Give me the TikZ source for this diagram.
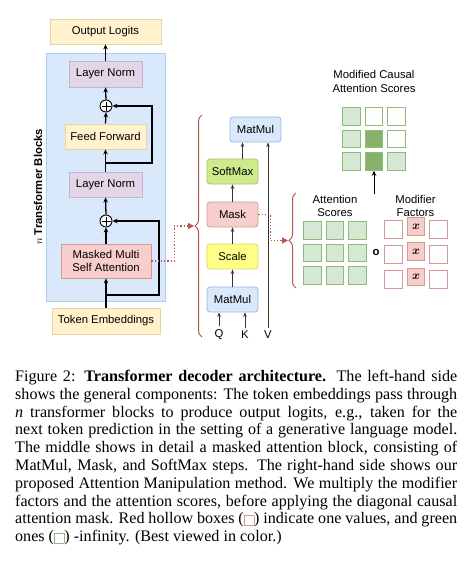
\documentclass[tikz,border=0pt]{standalone}
\usepackage{amsmath}
\usepackage{amssymb}
\usepackage{fontspec}
\setmainfont{Liberation Serif}
\setsansfont{Liberation Sans}
\usepackage{tikz}
\usetikzlibrary{arrows.meta,decorations.pathreplacing,matrix}

\definecolor{ylwfill}{HTML}{FFF2CC}
\definecolor{ylwdraw}{HTML}{E6D5A0}
\definecolor{bluefill}{HTML}{DAE8FC}
\definecolor{bluedraw}{HTML}{9DB6E0}
\definecolor{bgdraw}{HTML}{B4CBEF}
\definecolor{purpfill}{HTML}{E1D5E7}
\definecolor{purpdraw}{HTML}{C4B3D3}
\definecolor{redfill}{HTML}{F8CECC}
\definecolor{reddraw}{HTML}{D29A97}
\definecolor{greenfill}{HTML}{D5E8D4}
\definecolor{greendraw}{HTML}{8FBA78}
\definecolor{darkgreen}{HTML}{86B16B}
\definecolor{limefill}{HTML}{CDEB8B}
\definecolor{limedraw}{HTML}{A6C46A}
\definecolor{scalefill}{HTML}{FFFF88}
\definecolor{scaledraw}{HTML}{D9D36A}
\definecolor{bracered}{HTML}{B85450}

\newcommand{\capsquare}[1]{{\setlength{\fboxsep}{0pt}\setlength{\fboxrule}{0.7pt}%
	\raisebox{-1pt}{\fcolorbox{#1}{white}{\rule{0pt}{9pt}\hspace{9pt}}}}}

\tikzset{
	lbox/.style={draw, line width=0.8pt, inner sep=0pt, align=center, minimum height=25pt},
	mbox/.style={lbox, rounded corners=3pt, minimum width=51pt},
	addop/.style={circle, draw, fill=white, line width=0.9pt, minimum size=12pt, inner sep=0pt,
		path picture={\draw[line width=0.8pt]
			([xshift=1.5pt]path picture bounding box.west) -- ([xshift=-1.5pt]path picture bounding box.east)
			([yshift=-1.5pt]path picture bounding box.north) -- ([yshift=1.5pt]path picture bounding box.south);}},
	flow/.style={-{Stealth[length=5pt,width=4.5pt]}, line width=1.3pt},
	thinflow/.style={-{Stealth[length=4.5pt,width=3.5pt]}, line width=0.8pt, draw=black!80},
	dotflow/.style={draw=bracered, line width=1.2pt, dotted, -{Triangle[length=6pt,width=6pt]}},
	rbrace/.style={decorate, decoration={brace, amplitude=7pt}, draw=bracered, line width=1pt},
	cellw/.style={draw=greendraw, fill=white, line width=0.9pt, minimum size=17.5pt, inner sep=0pt},
	cellg/.style={fill=greenfill},
	celld/.style={fill=darkgreen},
	cellr/.style={cellw, draw=reddraw},
	cellx/.style={fill=redfill, font=\fontsize{13}{15}\selectfont},
	grid/.style={matrix of nodes, nodes in empty cells, column sep=4pt, row sep=4pt, inner sep=0pt}
}

\begin{document}
\begin{tikzpicture}[x=1pt, y=-1pt, font=\sffamily\fontsize{11.3}{13.5}\selectfont]
	\useasboundingbox (0,0) rectangle (474,562);

	% left: decoder stack
	\node[lbox, draw=bgdraw, fill=bluefill, minimum width=119pt, minimum height=248pt] (blocks) at (105.5,177) {};
	\node[lbox, draw=ylwdraw, fill=ylwfill, minimum width=111pt] (out) at (105.5,31.5) {Output Logits};
	\node[lbox, draw=purpdraw, fill=purpfill, minimum width=73pt, minimum height=26pt] (ln2) at (105.5,74) {Layer Norm};
	\node[addop] (add2) at (106,106) {};
	\node[lbox, draw=ylwdraw, fill=ylwfill, minimum width=81pt] (ff) at (105.5,136.5) {Feed Forward};
	\node[lbox, draw=purpdraw, fill=purpfill, minimum width=73pt] (ln1) at (105.5,184.5) {Layer Norm};
	\node[addop] (add1) at (106,221) {};
	\node[lbox, draw=reddraw, fill=redfill, minimum width=90pt, minimum height=34pt] (attn) at (106,261) {Masked Multi\\Self Attention};
	\node[lbox, draw=ylwdraw, fill=ylwfill, minimum width=108pt, minimum height=26pt] (tok) at (106,321) {Token Embeddings};
	\node[rotate=90, font=\sffamily\bfseries\fontsize{11.3}{13.5}\selectfont] (lbl) at (38,187) {$n$ Transformer Blocks};

	\coordinate (res1) at (106,295);
	\coordinate (res2) at (106,163);
	\draw[flow] (tok.north) -- (attn.south);
	\draw[flow] (res1) -- ++(53,0) |- (add1.east);
	\draw[flow] (attn.north) -- (add1.south);
	\draw[flow] (add1.north) -- (ln1.south);
	\draw[flow] (ln1.north) -- (ff.south);
	\draw[flow] (res2) -- ++(46,0) |- (add2.east);
	\draw[flow] (ff.north) -- (add2.south);
	\draw[flow] (add2.north) -- (ln2.south);
	\draw[flow] (ln2.north) -- (out.south);

	% middle: masked attention
	\node[mbox, draw=bluedraw, fill=bluefill] (mm2) at (255.5,129.5) {MatMul};
	\node[mbox, draw=limedraw, fill=limefill] (sm) at (232.5,171.5) {SoftMax};
	\node[mbox, draw=reddraw, fill=redfill] (mask) at (232.5,214.5) {Mask};
	\node[mbox, draw=scaledraw, fill=scalefill] (scale) at (232.5,256.5) {Scale};
	\node[mbox, draw=bluedraw, fill=bluefill] (mm1) at (232.5,299.5) {MatMul};
	\node (q) at (219,335) {Q};
	\node (k) at (245,335) {K};
	\node (v) at (268,335) {V};

	\draw[thinflow] (q.north) -- (q.north |- mm1.south);
	\draw[thinflow] (k.north) -- (k.north |- mm1.south);
	\draw[thinflow] (mm1) -- (scale);
	\draw[thinflow] (scale) -- (mask);
	\draw[thinflow] (mask) -- (sm);
	\draw[thinflow] ([xshift=10pt]sm.north) -- ([xshift=10pt]sm.north |- mm2.south);
	\draw[thinflow] (v.north) -- (v.north |- mm2.south);

	\draw[rbrace] (202,337) -- (202,115);
	\draw[rbrace] (296,288) -- (296,193);
	\coordinate (tip1) at (194,226);
	\coordinate (tip2) at (288,240.5);
	\draw[dotflow] (attn.east) -- ++(23,0) |- (tip1);
	\draw[dotflow] (mask.east) -- ++(12,0) |- (tip2);

	% right: attention manipulation
	\node[align=center] (mcslbl) at (374,81.5) {Modified Causal\\Attention Scores};
	\matrix[grid, name=mcs, nodes={cellw}] at (374,139) {
		|[cellg]| & & \\
		|[cellg]| & |[celld]| & \\
		|[cellg]| & |[celld]| & |[cellg]| \\ };
	\node[align=center] (attlbl) at (335,206) {Attention\\Scores};
	\node[align=center] (modlbl) at (415.5,206) {Modifier\\Factors};
	\matrix[grid, name=att, nodes={cellw, cellg}] at (335,253) {
		& & \\
		& & \\
		& & \\ };
	\matrix[grid, name=mod, nodes={cellr}] at (416,253) {
		& |[cellx]| $\boldsymbol{x}$ & \\
		& |[cellx]| $\boldsymbol{x}$ & \\
		& |[cellx]| $\boldsymbol{x}$ & \\ };
	\node[font=\sffamily\bfseries\fontsize{11.3}{13.5}\selectfont] (op) at (376,253) {o};
	\coordinate (prod) at (374,194);
	\draw[flow, line width=1pt] (prod) -- (mcs.south);

	% caption
	\node[anchor=north west, text width=442pt, align=justify, inner sep=0pt,
		font=\rmfamily\fontsize{16.1}{17.8}\selectfont] (cap) at (15,370) {%
	Figure 2: \textbf{Transformer decoder architecture.} The left-hand side\linebreak
	shows the general components: The token embeddings pass through\linebreak
	\textit{n} transformer blocks to produce output logits, e.g., taken for the\linebreak
	next token prediction in the setting of a generative language model.\linebreak
	The middle shows in detail a masked attention block, consisting of\linebreak
	MatMul, Mask, and SoftMax steps. The right-hand side shows our\linebreak
	proposed Attention Manipulation method. We multiply the modifier\linebreak
	factors and the attention scores, before applying the diagonal causal\linebreak
	attention mask. Red hollow boxes (\capsquare{reddraw}) indicate one values, and green\linebreak
	ones (\capsquare{greendraw}) -infinity. (Best viewed in color.)};
\end{tikzpicture}
\end{document}
